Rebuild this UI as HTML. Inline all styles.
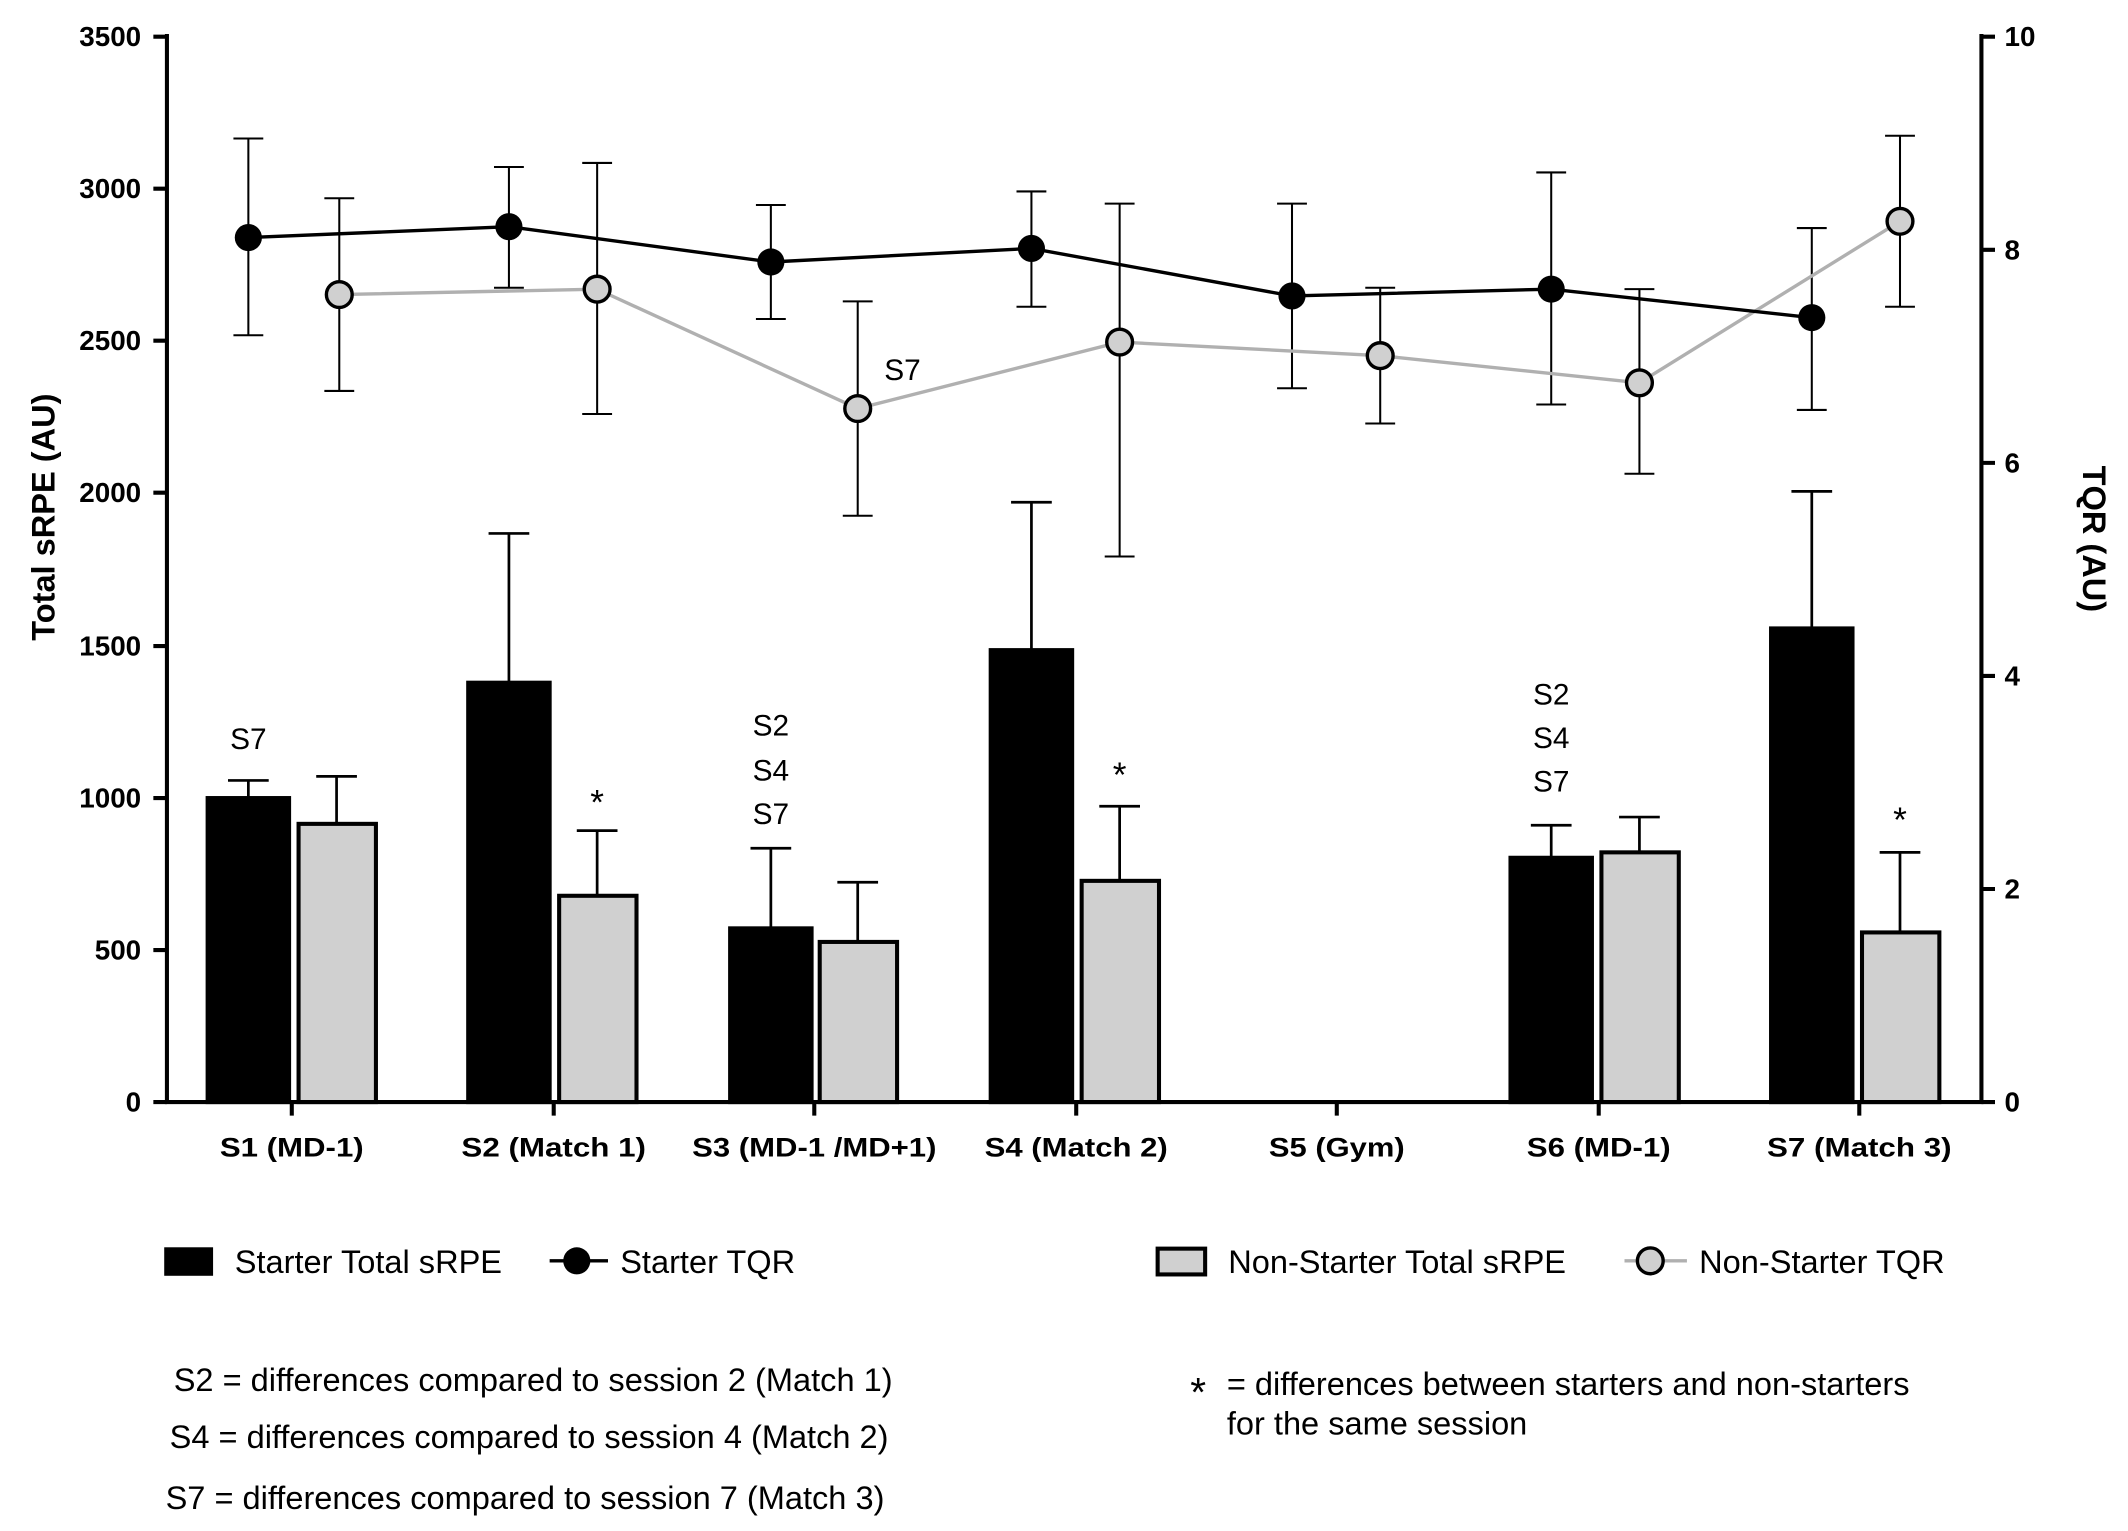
<!DOCTYPE html>
<html><head><meta charset="utf-8"><style>html,body{margin:0;padding:0;background:#fff}svg{display:block}</style></head>
<body>
<svg width="2128" height="1531" viewBox="0 0 1568 1128" xmlns="http://www.w3.org/2000/svg" font-family="Liberation Sans, Arial, sans-serif" xml:space="preserve">
<rect width="1568" height="1128" fill="#fff"/>
<g stroke="#000" stroke-width="3">
<g fill="#000">
<rect x="153" y="588" width="60" height="224"/>
<rect x="345" y="503" width="60" height="309"/>
<rect x="538" y="684" width="60" height="128"/>
<rect x="730" y="479" width="60" height="333"/>
<rect x="1113" y="632" width="60" height="180"/>
<rect x="1305" y="463" width="60" height="349"/>
</g>
<g fill="#d0d0d0">
<rect x="220" y="607" width="57" height="205"/>
<rect x="412" y="660" width="57" height="152"/>
<rect x="604" y="694" width="57" height="118"/>
<rect x="797" y="649" width="57" height="163"/>
<rect x="1180" y="628" width="57" height="184"/>
<rect x="1372" y="687" width="57" height="125"/>
</g>
</g>
<g stroke="#000" stroke-width="2">
<path d="M183 588V575M168 575H198"/>
<path d="M248 607V572M233 572H263"/>
<path d="M375 503V393M360 393H390"/>
<path d="M440 660V612M425 612H455"/>
<path d="M568 684V625M553 625H583"/>
<path d="M632 694V650M617 650H647"/>
<path d="M760 479V370M745 370H775"/>
<path d="M825 649V594M810 594H840"/>
<path d="M1143 632V608M1128 608H1158"/>
<path d="M1208 628V602M1193 602H1223"/>
<path d="M1335 463V362M1320 362H1350"/>
<path d="M1400 687V628M1385 628H1415"/>
</g>
<g stroke="#000" stroke-width="1.5">
<path d="M183 102V247M172 102H194M172 247H194"/>
<path d="M375 123V212M364 123H386M364 212H386"/>
<path d="M568 151V235M557 151H579M557 235H579"/>
<path d="M760 141V226M749 141H771M749 226H771"/>
<path d="M952 150V286M941 150H963M941 286H963"/>
<path d="M1143 127V298M1132 127H1154M1132 298H1154"/>
<path d="M1335 168V302M1324 168H1346M1324 302H1346"/>
<path d="M250 146V288M239 146H261M239 288H261"/>
<path d="M440 120V305M429 120H451M429 305H451"/>
<path d="M632 222V380M621 222H643M621 380H643"/>
<path d="M825 150V410M814 150H836M814 410H836"/>
<path d="M1017 212V312M1006 212H1028M1006 312H1028"/>
<path d="M1208 213V349M1197 213H1219M1197 349H1219"/>
<path d="M1400 100V226M1389 100H1411M1389 226H1411"/>
</g>
<polyline points="250,217 440,213 632,301 825,252 1017,262 1208,282 1400,163" fill="none" stroke="#b0b0b0" stroke-width="2.5"/>
<polyline points="183,175 375,167 568,193 760,183 952,218 1143,213 1335,234" fill="none" stroke="#000" stroke-width="2.5"/>
<g fill="#d0d0d0" stroke="#000" stroke-width="2.5">
<circle cx="250" cy="217" r="9.5"/><circle cx="440" cy="213" r="9.5"/><circle cx="632" cy="301" r="9.5"/><circle cx="825" cy="252" r="9.5"/><circle cx="1017" cy="262" r="9.5"/><circle cx="1208" cy="282" r="9.5"/><circle cx="1400" cy="163" r="9.5"/>
</g>
<g fill="#000">
<circle cx="183" cy="175" r="10"/><circle cx="375" cy="167" r="10"/><circle cx="568" cy="193" r="10"/><circle cx="760" cy="183" r="10"/><circle cx="952" cy="218" r="10"/><circle cx="1143" cy="213" r="10"/><circle cx="1335" cy="234" r="10"/>
</g>
<g stroke="#000" stroke-width="3" fill="none">
<path d="M123 25V812H1460V25"/>
<path d="M113 27H123M113 139H123M113 251H123M113 363H123M113 476H123M113 588H123M113 700H123M113 812H123"/>
<path d="M1460 27H1470M1460 184H1470M1460 341H1470M1460 498H1470M1460 655H1470M1460 812H1470"/>
<path d="M215 812V822M408 812V822M600 812V822M793 812V822M985 812V822M1178 812V822M1370 812V822"/>
</g>
<g font-size="20.5" font-weight="bold" text-anchor="end">
<text x="104" y="34">3500</text><text x="104" y="146">3000</text><text x="104" y="258">2500</text><text x="104" y="370">2000</text><text x="104" y="483">1500</text><text x="104" y="595">1000</text><text x="104" y="707">500</text><text x="104" y="819">0</text>
</g>
<g font-size="20.5" font-weight="bold">
<text x="1477" y="34">10</text><text x="1477" y="191">8</text><text x="1477" y="348">6</text><text x="1477" y="505">4</text><text x="1477" y="662">2</text><text x="1477" y="819">0</text>
</g>
<g font-size="20" font-weight="bold" text-anchor="middle" lengthAdjust="spacingAndGlyphs">
<text x="215" y="852" textLength="106" lengthAdjust="spacingAndGlyphs">S1 (MD-1)</text>
<text x="408" y="852" textLength="136" lengthAdjust="spacingAndGlyphs">S2 (Match 1)</text>
<text x="600" y="852" textLength="180" lengthAdjust="spacingAndGlyphs">S3 (MD-1 /MD+1)</text>
<text x="793" y="852" textLength="135" lengthAdjust="spacingAndGlyphs">S4 (Match 2)</text>
<text x="985" y="852" textLength="100" lengthAdjust="spacingAndGlyphs">S5 (Gym)</text>
<text x="1178" y="852" textLength="106" lengthAdjust="spacingAndGlyphs">S6 (MD-1)</text>
<text x="1370" y="852" textLength="136" lengthAdjust="spacingAndGlyphs">S7 (Match 3)</text>
</g>
<text transform="translate(40,381) rotate(-90)" font-size="24" font-weight="bold" text-anchor="middle">Total sRPE (AU)</text>
<text transform="translate(1535,397) rotate(90)" font-size="24" font-weight="bold" text-anchor="middle">TQR (AU)</text>
<g font-size="22" text-anchor="middle">
<text x="183" y="552">S7</text>
<text x="568" y="542">S2</text><text x="568" y="575">S4</text><text x="568" y="607">S7</text>
<text x="1143" y="519">S2</text><text x="1143" y="551">S4</text><text x="1143" y="583">S7</text>
<text x="665" y="280">S7</text>
<text x="440" y="600" font-size="26">*</text><text x="825" y="580" font-size="26">*</text><text x="1400" y="613" font-size="26">*</text>
</g>
<rect x="121" y="919" width="36" height="21" fill="#000"/>
<text x="173" y="938" font-size="24">Starter  Total sRPE</text>
<path d="M405 929H448" stroke="#000" stroke-width="2.5"/><circle cx="425" cy="929" r="10" fill="#000"/>
<text x="457" y="938" font-size="24">Starter TQR</text>
<rect x="853" y="920" width="35" height="19" fill="#d0d0d0" stroke="#000" stroke-width="3"/>
<text x="905" y="938" font-size="24">Non-Starter Total sRPE</text>
<path d="M1197 929H1243" stroke="#b0b0b0" stroke-width="2.5"/><circle cx="1216" cy="929" r="9.5" fill="#d0d0d0" stroke="#000" stroke-width="2.5"/>
<text x="1252" y="938" font-size="24">Non-Starter TQR</text>
<g font-size="24">
<text x="128" y="1025">S2 = differences compared to session 2 (Match 1)</text>
<text x="125" y="1067">S4 = differences compared to session 4 (Match 2)</text>
<text x="122" y="1112">S7 = differences compared to session 7  (Match 3)</text>
<text x="877" y="1036" font-size="30">*</text>
<text x="904" y="1028">= differences between starters and non-starters</text>
<text x="904" y="1057">for the same session</text>
</g>
</svg>
</body></html>
